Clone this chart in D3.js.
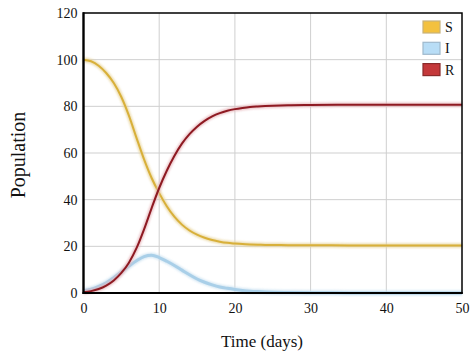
<!DOCTYPE html>
<html><head><meta charset="utf-8">
<script src="https://cdn.jsdelivr.net/npm/d3@7"></script>
<style>body{margin:0;background:#fff}svg{display:block}</style>
</head><body>
<svg id="c" width="474" height="355"></svg>
<script>
const days = [0,1,2,3,4,5,6,7,8,9,10,11,12,13,14,15,16,17,18,19,20,21,22,23,24,25,27,30,35,40,45,50];
const susceptible = [100,99.3,97.4,94.3,90.0,84.0,76.0,66.5,57.3,49.3,42.8,37.2,32.7,29.3,26.8,25.0,23.7,22.7,22.0,21.5,21.2,20.95,20.8,20.7,20.6,20.55,20.5,20.45,20.4,20.4,20.4,20.4];
const infected = [1,1.6,2.8,4.4,6.6,9.0,11.5,13.8,15.6,16.2,15.2,13.6,11.8,9.8,7.8,6.0,4.6,3.5,2.6,2.0,1.5,1.1,0.8,0.6,0.45,0.35,0.2,0.1,0.05,0.05,0.05,0.05];
const recovered = [0.3,0.8,1.7,3.2,5.4,8.6,13.0,19.2,27.3,36.4,45.0,52.4,58.7,64.0,68.1,71.3,73.8,75.7,77.1,78.1,78.8,79.3,79.7,79.95,80.15,80.3,80.5,80.6,80.7,80.7,80.7,80.7];
const seriesNames = ["S","I","R"];
const xTicks = [0,10,20,30,40,50];
const yTicks = [0,20,40,60,80,100,120];

const FONT = '"Liberation Serif","Times New Roman","DejaVu Serif",serif';
const svg = d3.select("#c");
const L = 83.5, R = 462, T = 13, B = 293;
const x = d3.scaleLinear().domain([0,50]).range([L,R]);
const y = d3.scaleLinear().domain([0,120]).range([B,T]);

const defs = svg.append("defs");
defs.append("filter").attr("id","glow").attr("x","-10%").attr("y","-10%").attr("width","120%").attr("height","120%")
  .append("feGaussianBlur").attr("stdDeviation",1.2);

// gridlines
svg.append("g").selectAll("line").data(yTicks.slice(1,-1)).join("line")
  .attr("x1",L).attr("x2",R).attr("y1",d=>y(d)).attr("y2",d=>y(d))
  .attr("stroke","#cfcfcf").attr("stroke-width",1);
svg.append("g").selectAll("line").data(xTicks.slice(1,-1)).join("line")
  .attr("y1",T).attr("y2",B).attr("x1",d=>x(d)).attr("x2",d=>x(d))
  .attr("stroke","#cfcfcf").attr("stroke-width",1);

const series = [
  {name:"S", values:susceptible, color:"#d8b03a", glow:"#e8d49a", w:2, gw:4.5},
  {name:"I", values:infected, color:"#a9cfe8", glow:"#c8e0f0", w:3, gw:5},
  {name:"R", values:recovered, color:"#8e1a22", glow:"#e6b3b8", w:2, gw:4.5}
];
const line = d3.line().curve(d3.curveMonotoneX);
series.forEach(s=>{
  const pts = days.map((d,i)=>[x(d), y(s.values[i])]);
  svg.append("path").attr("d",line(pts)).attr("fill","none")
    .attr("stroke",s.glow).attr("stroke-width",s.gw).attr("opacity",0.8).attr("filter","url(#glow)");
  svg.append("path").attr("d",line(pts)).attr("fill","none")
    .attr("stroke",s.color).attr("stroke-width",s.w);
});

// frame
svg.append("rect").attr("x",L).attr("y",T).attr("width",R-L).attr("height",B-T)
  .attr("fill","none").attr("stroke","#000").attr("stroke-width",1.5);
svg.append("line").attr("x1",L).attr("x2",L).attr("y1",T-0.75).attr("y2",B+1).attr("stroke","#000").attr("stroke-width",2.2);
svg.append("line").attr("x1",L-1).attr("x2",R+0.75).attr("y1",B).attr("y2",B).attr("stroke","#000").attr("stroke-width",2.2);

// axes labels
const xAxis = d3.axisBottom(x).tickValues(xTicks).tickSize(0).tickPadding(10);
const gx = svg.append("g").attr("transform",`translate(0,${B})`).call(xAxis);
gx.attr("font-family",FONT).attr("font-size",14);
gx.select(".domain").remove();
gx.selectAll("text").style("font-family",FONT).style("font-size","14px").attr("fill","#111");
const yAxis = d3.axisLeft(y).tickValues(yTicks).tickSize(0).tickPadding(6);
const gy = svg.append("g").attr("transform",`translate(${L},0)`).call(yAxis);
gy.attr("font-family",FONT).attr("font-size",14);
gy.select(".domain").remove();
gy.selectAll("text").style("font-family",FONT).style("font-size","14px").attr("fill","#111");

svg.append("text").attr("x",262).attr("y",347).attr("text-anchor","middle")
  .style("font-family",FONT).style("font-size","17px").attr("fill","#111").text("Time (days)");
svg.append("text").attr("transform","translate(25,155) rotate(-90)").attr("text-anchor","middle")
  .style("font-family",FONT).style("font-size","20px").attr("fill","#111").text("Population");

// legend
const legFill = {S:"#f3c13f", I:"#b8ddf6", R:"#c4383a"};
const legStroke = {S:"#c9b27a", I:"#9fb9cc", R:"#8a2a2a"};
const lg = svg.append("g");
seriesNames.forEach((n,i)=>{
  const yy = 21 + i*21.3;
  lg.append("rect").attr("x",423).attr("y",yy).attr("width",17).attr("height",12)
    .attr("fill",legFill[n]).attr("stroke",legStroke[n]).attr("stroke-width",1.2);
  lg.append("text").attr("x",445).attr("y",yy+11).style("font-family",FONT).style("font-size","14px").attr("fill","#111").text(n);
});
</script>
</body></html>
